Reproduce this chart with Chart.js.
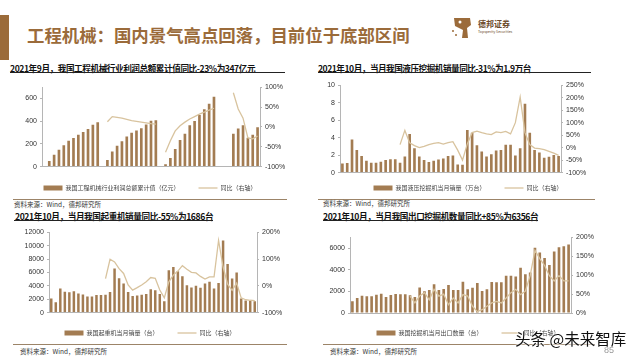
<!DOCTYPE html>
<html><head><meta charset="utf-8">
<script src="https://cdn.jsdelivr.net/npm/chart.js@4.4.1/dist/chart.umd.min.js"></script>
<style>
body{margin:0;width:640px;height:360px;background:#fff;position:relative;overflow:hidden;font-family:'Noto Sans CJK SC',sans-serif;}
.a{position:absolute;white-space:nowrap;}
.hd{font-size:8.6px;font-weight:700;color:#111;line-height:12px;}
.src{font-size:6.5px;color:#333;line-height:9px;}
.ln{position:absolute;height:1px;background:#9c8468;}
.ul{position:absolute;height:1.3px;background:#222;}
canvas{position:absolute;}
</style></head><body>
<div class="a" style="left:0;top:15px;width:9px;height:45px;background:#9b6b3a"></div>
<div class="a" style="left:27px;top:22px;font-size:17.4px;font-weight:700;color:#9b6b3a;line-height:26px;">工程机械：国内景气高点回落，目前位于底部区间</div>
<svg class="a" style="left:451px;top:16px" width="22" height="23" viewBox="0 0 22 23">
<path d="M3 2 L19 2 L20 9 L16 12 L17 22 L11 22 L12 14 L8 12 L4 10 Z" fill="#9b6b3a"/>
<circle cx="9" cy="6" r="1.5" fill="#fff"/><circle cx="2" cy="15" r="1" fill="#9b6b3a"/><circle cx="5" cy="19" r="1" fill="#9b6b3a"/>
</svg>
<div class="a" style="left:478px;top:19px;font-size:8px;font-weight:700;color:#6b4a2a;line-height:10px;">德邦证券</div>
<div class="a" style="left:478px;top:30px;font-size:3.5px;color:#6b4a2a;line-height:4px;">Topsperity Securities</div>

<div class="a hd" data-w="245" style="left:10px;top:62px;">2021年9月，我国工程机械行业利润总额累计值同比-23%为347亿元</div>
<div class="ul" style="left:10px;top:72px;width:275px;"></div>
<div class="a hd" data-w="213" style="left:318px;top:62px;">2021年10月，当月我国液压挖掘机销量同比-31%为1.9万台</div>
<div class="ul" style="left:318px;top:72px;width:273px;"></div>
<div class="ln" style="left:13px;top:199px;width:274px;"></div>
<div class="ln" style="left:318px;top:199px;width:277px;"></div>
<div class="a src" style="left:14px;top:200px;">资料来源：Wind，德邦研究所</div>
<div class="a src" style="left:323px;top:199px;">资料来源：Wind，德邦研究所</div>

<div class="a hd" data-w="198" style="left:15px;top:210px;">2021年10月，当月我国起重机销量同比-55%为1686台</div>
<div class="ul" style="left:14px;top:220px;width:199px;"></div>
<div class="a hd" data-w="215" style="left:323px;top:210px;">2021年10月，当月我国出口挖掘机数量同比+85%为6356台</div>
<div class="ul" style="left:323px;top:220px;width:215px;"></div>
<div class="ln" style="left:13px;top:344px;width:274px;"></div>
<div class="ln" style="left:323px;top:344px;width:272px;"></div>
<div class="a src" style="left:20px;top:347px;">资料来源：Wind，德邦研究所</div>
<div class="a src" style="left:330px;top:347px;">资料来源：Wind，德邦研究所</div>

<canvas id="c1" width="300" height="121" style="left:0;top:80px"></canvas>
<canvas id="c2" width="300" height="123" style="left:318px;top:78px"></canvas>
<canvas id="c3" width="290" height="121" style="left:5px;top:225px"></canvas>
<canvas id="c4" width="300" height="116" style="left:318px;top:230px"></canvas>

<div class="a" style="left:604px;top:345px;font-size:9px;color:#999;font-family:'Liberation Sans';">85</div>
<div class="a" style="left:515px;top:328px;font-size:15.5px;color:#111;line-height:20px;text-shadow:0 0 2px #fff,0 0 2px #fff,0 0 3px #fff;">头条 @未来智库</div>

<script>
// fit header text widths to the reference
document.querySelectorAll('.hd').forEach(el => {
  const target = +el.dataset.w;
  const w = el.getBoundingClientRect().width;
  const n = el.textContent.length;
  el.style.letterSpacing = ((target - w) / n).toFixed(2) + 'px';
});

const months = ['2018-01','2018-02','2018-03','2018-04','2018-05','2018-06','2018-07','2018-08','2018-09','2018-10','2018-11','2018-12',
'2019-01','2019-02','2019-03','2019-04','2019-05','2019-06','2019-07','2019-08','2019-09','2019-10','2019-11','2019-12',
'2020-01','2020-02','2020-03','2020-04','2020-05','2020-06','2020-07','2020-08','2020-09','2020-10','2020-11','2020-12',
'2021-01','2021-02','2021-03','2021-04','2021-05','2021-06','2021-07','2021-08','2021-09','2021-10'];
const profitMonths = months.slice(0, 45);

// Chart 1: 工程机械行业利润总额累计值（亿元）/ 同比
const profitCum = [null,50,104,148,188,228,253,281,304,331,369,390,
  null,58,134,184,223,266,298,318,339,372,405,408,
  null,20,75,155,235,290,365,403,455,505,555,615,
  null,null,null,290,335,365,255,280,347];
const profitYoY = [null,null,null,null,null,null,null,null,null,null,null,null,
  null,13,26,24,22,19,16,14,12,10,8,7,
  null,-64,-35,-10,3,12,20,26,32,37,42,47,
  null,null,null,86,45,22,-28,-30,-23];

// Chart 2: 液压挖掘机当月销量（万台）/ 同比
const excSales = [1.05,1.1,3.78,2.6,1.9,1.37,1.13,1.13,1.25,1.45,1.52,1.52,
  1.13,1.83,4.43,2.8,1.85,1.45,1.2,1.35,1.5,1.6,1.9,1.95,
  0.93,0.9,4.87,4.55,3.12,2.42,1.83,2.1,2.53,2.6,3.2,3.2,
  1.95,2.8,7.87,4.55,2.6,2.3,1.7,1.8,2.0,1.9];
const excYoY = [null,null,null,null,null,null,null,null,null,null,null,null,
  12,69,19,8,0,5,12,17,20,14,20,24,
  -10,-50,15,60,66,60,55,52,63,60,65,55,
  100,202,60,12,-2,-4,-8,-15,-22,-31];

// Chart 3: 起重机当月销量（台）/ 同比
const craneSales = [2120,1550,3600,3100,3050,3200,2860,2700,2420,2400,2620,2620,
  2650,3060,6600,5130,4340,3060,2460,2560,2660,2760,3500,3350,
  2760,1680,6320,6810,6170,5430,4100,3750,4000,3700,4340,4590,
  3600,4400,10760,7250,5100,6000,2100,1800,1760,1686];
const craneYoY = [null,null,null,null,null,null,null,null,null,null,null,null,
  27,99,89,64,46,3,-16,-7,3,15,31,28,
  -16,-45,15,40,55,75,62,50,48,35,25,33,
  33,169,70,6,-17,10,-45,-52,-54,-55];

// Chart 4: 挖掘机当月出口数量（台）/ 同比
const expSales = [1100,1400,1600,1550,1550,1700,1800,1480,1680,1780,1750,1740,
  1650,1500,2380,2030,2140,2660,2140,2230,2600,2140,2140,2900,
  2200,2350,2780,2050,2200,2880,2850,2850,3450,3450,3400,4200,
  3600,3750,6050,5600,5100,4450,5700,6100,6200,6356];
const expYoY = [null,null,null,null,null,null,null,null,null,null,null,null,
  45,27,45,54,35,63,45,50,22,40,27,49,
  45,18,4,9,18,27,31,27,40,54,63,49,
  58,99,166,144,126,99,85,99,85,85];

const BAR = '#a37c52', LINE = '#d8c39e', AX = '#b5b5b5';
const TICKFONT = "'Liberation Sans', Arial, sans-serif";
const CJK = "'Noto Sans CJK SC', sans-serif";

function makeChart(id, c) {
  return new Chart(document.getElementById(id), {
    type: 'bar',
    data: {
      labels: c.labels,
      datasets: [
        { type: 'bar', label: c.barLabel, data: c.bars, backgroundColor: BAR, borderWidth: 0,
          yAxisID: 'y', order: 2, barPercentage: 0.55, categoryPercentage: 1, pointStyle: 'rect' },
        { type: 'line', label: c.lineLabel, data: c.line, borderColor: LINE, backgroundColor: LINE,
          borderWidth: 1.3, pointRadius: 0, yAxisID: 'y1', order: 1, pointStyle: 'line', tension: 0, spanGaps: false }
      ]
    },
    options: {
      responsive: false, animation: false, devicePixelRatio: 1,
      layout: { padding: { left: 0, right: 0, top: c.padTop, bottom: 0 } },
      plugins: {
        tooltip: { enabled: false },
        legend: { position: 'bottom',
          labels: { usePointStyle: true, pointStyleWidth: 19, boxHeight: 5, padding: 10, color: '#444',
            font: { family: CJK, size: 6 }, sort: (a, b) => a.datasetIndex - b.datasetIndex } }
      },
      scales: {
        x: { grid: { display: false }, border: { color: AX },
          ticks: { autoSkip: false, maxRotation: 0, minRotation: 0, padding: 3, color: '#333',
            font: { family: TICKFONT, size: 5.5 },
            callback: function (v, i) { return i % 5 === 0 ? this.getLabelForValue(v) : ''; } },
          afterFit: s => { s.height = c.xH; } },
        y: { position: 'left', min: c.lmin, max: c.lmax,
          ticks: { stepSize: c.lstep, padding: 3, color: '#333', font: { family: TICKFONT, size: 7 },
            callback: v => String(v) },
          grid: { display: true, drawOnChartArea: false, tickLength: 2, color: AX }, border: { color: AX },
          afterFit: s => { s.width = c.leftW; } },
        y1: { position: 'right', min: c.rmin, max: c.rmax,
          ticks: { stepSize: c.rstep, padding: 3, color: '#333', font: { family: TICKFONT, size: 7 },
            callback: v => v + '%' },
          grid: { display: true, drawOnChartArea: false, tickLength: 2, color: AX }, border: { color: AX },
          afterFit: s => { s.width = c.rightW; } }
      }
    }
  });
}

makeChart('c1', { labels: profitMonths, bars: profitCum, line: profitYoY,
  barLabel: '我国工程机械行业利润总额累计值（亿元）　　', lineLabel: '同比（右轴）',
  lmin: 0, lmax: 700, lstep: 100, rmin: -100, rmax: 100, rstep: 50,
  padTop: 6, leftW: 42, rightW: 40, xH: 8.4 });
makeChart('c2', { labels: months, bars: excSales, line: excYoY,
  barLabel: '我国液压挖掘机当月销量（万台）　　', lineLabel: '同比（右轴）',
  lmin: 0, lmax: 10, lstep: 2, rmin: -100, rmax: 250, rstep: 50,
  padTop: 7, leftW: 22, rightW: 57, xH: 2.4 });
makeChart('c3', { labels: months, bars: craneSales, line: craneYoY,
  barLabel: '我国起重机当月销量（台）　　', lineLabel: '同比（右轴）',
  lmin: 0, lmax: 12000, lstep: 2000, rmin: -100, rmax: 200, rstep: 100,
  padTop: 5, leftW: 44, rightW: 38, xH: 7.4 });
makeChart('c4', { labels: months, bars: expSales, line: expYoY,
  barLabel: '我国挖掘机当月出口数量（台）　　', lineLabel: '同比（右轴）',
  lmin: 0, lmax: 7000, lstep: 1000, rmin: 0, rmax: 200, rstep: 50,
  padTop: 7.5, leftW: 32, rightW: 47, xH: 6.9 });
</script>
</body></html>
